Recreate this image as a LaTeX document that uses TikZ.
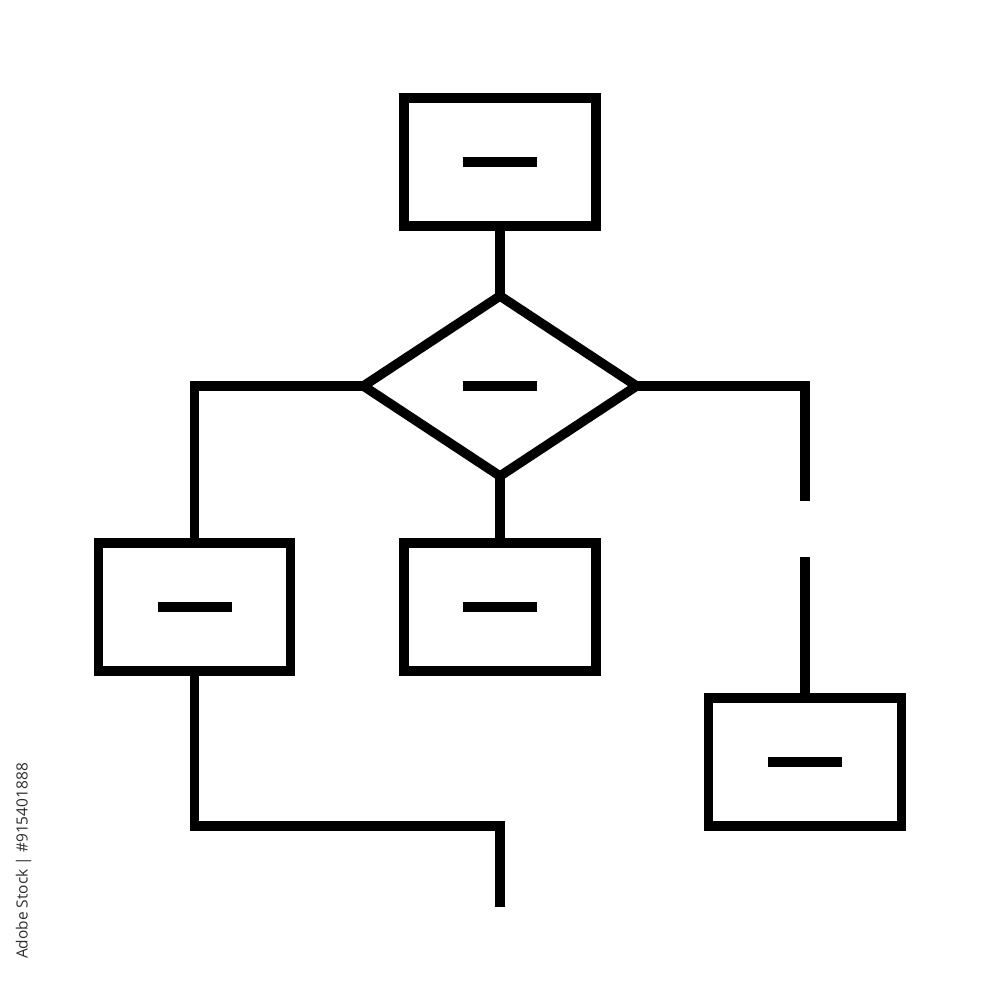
\documentclass[tikz,border=0pt]{standalone}
\usepackage{fontspec}
\setmainfont{Open Sans}
\usetikzlibrary{shapes.geometric}
\definecolor{wm}{HTML}{2E2E2E}
\begin{document}
\begin{tikzpicture}[x=0.01cm,y=-0.01cm,
  ln/.style={line width=0.095cm, line cap=butt, line join=miter},
  boxnode/.style={ln, draw, rectangle, inner sep=0pt, outer sep=0pt, minimum width=1.92cm, minimum height=1.28cm},
  decnode/.style={ln, draw, diamond, inner sep=0pt, outer sep=0pt, minimum width=2.73cm, minimum height=1.80cm},
  bar/.style={ln}]
\useasboundingbox (0,0) rectangle (1000,1000);
\fill[white] (0,0) rectangle (1000,1000);
\node[boxnode] (t) at (500,162) {};
\node[decnode] (d) at (500,386) {};
\node[boxnode] (l) at (194.5,607) {};
\node[boxnode] (m) at (500,607) {};
\node[boxnode, minimum width=1.93cm] (r) at (805,762) {};
\coordinate (r1) at (805,501);
\coordinate (r2) at (805,557);
\coordinate (b1) at (500,826);
\coordinate (b2) at (500,907);
% bars
\foreach \n in {t,d,l,m,r} {\draw[bar] (\n.center) ++(-37,0) -- ++(74,0);}
% connectors
\draw[ln] (t.south) -- (d.north);
\draw[ln] (d.south) -- (m.north);
\draw[ln] (d.west) -| (l.north);
\draw[ln] (d.east) -| (r1);
\draw[ln] (r2) -- (r.north);
\draw[ln] (l.south) |- (b1) -- (b2);
\node[rotate=90, text=wm, font=\fontsize{4.4}{5}\selectfont, inner sep=0pt] (wmk) at (23.5,861) {Adobe Stock | \#915401888};
\end{tikzpicture}
\end{document}
